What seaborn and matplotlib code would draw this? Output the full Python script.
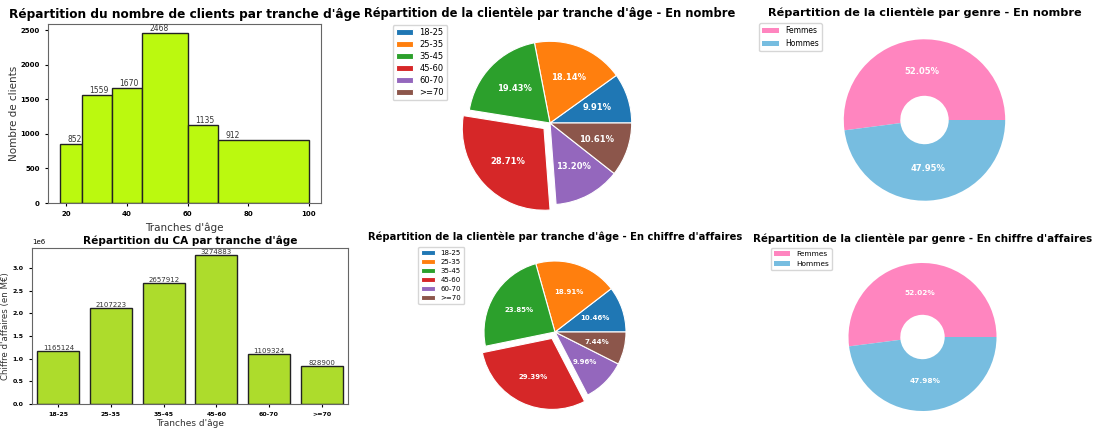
import numpy as np
import pandas as pd
import matplotlib
matplotlib.use('Agg')
import matplotlib.pyplot as plt
import seaborn as sns

# données
tranches = ['18-25', '25-35', '35-45', '45-60', '60-70', '>=70']
bornes = [18, 25, 35, 45, 60, 70, 100]
nb_clients = [852, 1559, 1670, 2468, 1135, 912]
ca_tranche = [1165124, 2107223, 2657912, 3274883, 1109324, 828900]
genres = ['Femmes', 'Hommes']
nb_genre = [4474, 4122]
ca_genre = [5796860, 5346506]

W, H = 1095, 436
fig = plt.figure(figsize=(W / 100, H / 100), dpi=100)


def px_axes(left, top, right, bottom):
    return fig.add_axes([left / W, 1 - bottom / H, (right - left) / W, (bottom - top) / H])


def pie_axes(cx, cy, r):
    s = 1.25 * r
    return px_axes(cx - s, cy - s, cx + s, cy + s)


vert = '#bbf90f'
palette = sns.color_palette('tab10', 6)
couleurs_genre = ['#ff85bf', '#77bde0']

# histogramme nombre de clients
ax1 = px_axes(48, 24, 321, 203)
milieux = [(bornes[i] + bornes[i + 1]) / 2 for i in range(len(nb_clients))]
sns.histplot(x=milieux, weights=nb_clients, bins=bornes, color=vert, alpha=1,
             edgecolor='#222222', linewidth=1, ax=ax1)
for i, n in enumerate(nb_clients):
    ax1.text(bornes[i] + 2.5, n, str(n), fontsize=5.5, color='#333333', ha='left', va='bottom')
ax1.set_title("Répartition du nombre de clients par tranche d'âge", fontsize=8.7, fontweight='bold', pad=4)
ax1.set_xlabel("Tranches d'âge", fontsize=7.5, color='#333333')
ax1.set_ylabel('Nombre de clients', fontsize=7.5, color='#333333', labelpad=1)
ax1.tick_params(labelsize=5, length=2.5)
for t in ax1.get_xticklabels() + ax1.get_yticklabels():
    t.set_fontweight('bold')
for sp in ax1.spines.values():
    sp.set_color('#666666')

# barplot CA
ax2 = px_axes(32, 248, 348, 404)
df_ca = pd.DataFrame({'tranche': tranches, 'ca': ca_tranche})
sns.barplot(data=df_ca, x='tranche', y='ca', color=vert, edgecolor='#222222', linewidth=1, ax=ax2)
ax2.bar_label(ax2.containers[0], labels=[str(v) for v in ca_tranche], fontsize=5, color='#333333', padding=0)
ax2.set_title("Répartition du CA par tranche d'âge", fontsize=7.6, fontweight='bold', pad=3)
ax2.set_xlabel("Tranches d'âge", fontsize=6.5, color='#333333', labelpad=1)
ax2.set_ylabel("Chiffre d'affaires (en M€)", fontsize=6.2, color='#333333', labelpad=2)
ax2.tick_params(labelsize=4.5, length=2.5)
ax2.yaxis.get_offset_text().set_fontsize(5)
for t in ax2.get_xticklabels() + ax2.get_yticklabels():
    t.set_fontweight('bold')
for sp in ax2.spines.values():
    sp.set_color('#666666')

# camemberts tranches d'âge
explode = [0, 0, 0, 0.1, 0, 0]


def camembert(ax, valeurs, titre, fs_titre, fs_pct, fs_leg, spacing, pad):
    _, _, autotexts = ax.pie(valeurs, colors=palette, explode=explode, autopct='%1.2f%%',
                             wedgeprops={'edgecolor': 'white', 'linewidth': 0.8})
    for t in autotexts:
        t.set_color('white')
        t.set_fontweight('bold')
        t.set_fontsize(fs_pct)
    ax.legend(tranches, loc='upper left', bbox_to_anchor=(-0.27, 0.98), fontsize=fs_leg,
              borderaxespad=0, handlelength=2.0, labelspacing=spacing)
    ax.set_title(titre, fontsize=fs_titre, fontweight='bold', pad=pad)


ax3 = pie_axes(550, 123, 81.7)
camembert(ax3, nb_clients, "Répartition de la clientèle par tranche d'âge - En nombre", 8.3, 6, 6, 0.35, 3)
ax4 = pie_axes(555, 332, 71)
camembert(ax4, ca_tranche, "Répartition de la clientèle par tranche d'âge - En chiffre d'affaires", 7.2, 5, 5, 0.45, 2.5)


# donuts genre
def donut(ax, valeurs, titre, fs_titre, fs_pct, fs_leg, pad):
    _, _, autotexts = ax.pie(valeurs, colors=couleurs_genre, autopct='%1.2f%%',
                             wedgeprops={'width': 0.7})
    for t in autotexts:
        t.set_color('white')
        t.set_fontweight('bold')
        t.set_fontsize(fs_pct)
    ax.legend(genres, loc='upper left', bbox_to_anchor=(-0.32, 0.98), fontsize=fs_leg,
              borderaxespad=0, handlelength=2.2, labelspacing=0.5)
    ax.set_title(titre, fontsize=fs_titre, fontweight='bold', pad=pad)


ax5 = pie_axes(924.5, 120, 80.7)
donut(ax5, nb_genre, 'Répartition de la clientèle par genre - En nombre', 8.15, 6, 5.5, 2.2)
ax6 = pie_axes(922.5, 337, 74)
donut(ax6, ca_genre, "Répartition de la clientèle par genre - En chiffre d'affaires", 7.4, 5.3, 5.3, 2)

fig.savefig('out.png', dpi=100)
